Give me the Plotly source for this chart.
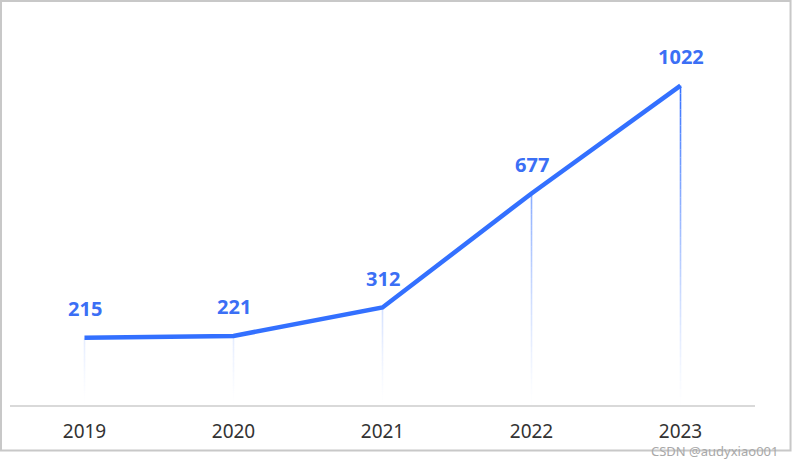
import plotly.graph_objects as go

years = ["2019", "2020", "2021", "2022", "2023"]
values = [215, 221, 312, 677, 1022]

LINE_COLOR = "#3370ff"
LABEL_COLOR = "#3b6ff5"

fig = go.Figure()

# gradient drop lines from each point to the axis
vmax = max(values)
N = 40
shapes = []
for i, v in enumerate(values):
    for k in range(N):
        v0 = v * k / N
        v1 = v * (k + 1) / N
        a = ((v0 + v1) / 2 / vmax) ** 1.3
        shapes.append(dict(type="line", xref="x", yref="y", x0=i, x1=i, y0=v0, y1=v1,
                           line=dict(color=f"rgba(51,112,255,{a:.3f})", width=1.6),
                           layer="below"))

# outer border
shapes.append(dict(type="rect", xref="paper", yref="paper",
                   x0=-0.01208, x1=1.0477, y0=-0.1213, y1=1.0773,
                   line=dict(color="#c8c8c8", width=2), fillcolor="rgba(0,0,0,0)",
                   layer="above"))

fig.add_trace(go.Scatter(x=list(range(len(years))), y=values, mode="lines",
                         line=dict(color=LINE_COLOR, width=4.5), hoverinfo="skip"))

annotations = []
for i, v in enumerate(values):
    annotations.append(dict(x=i, y=v, xref="x", yref="y", text=str(v), showarrow=False,
                            yshift=29, font=dict(family="Noto Sans", size=20,
                                                 color=LABEL_COLOR, weight="bold")))
annotations.append(dict(x=1.0336, y=-0.1227, xref="paper", yref="paper",
                        text="CSDN @audyxiao001", showarrow=False, xanchor="right",
                        yanchor="middle",
                        font=dict(family="Noto Sans", size=13, color="#a8a8a8")))

fig.update_layout(
    width=794, height=465,
    margin=dict(l=10, r=39, t=30, b=60),
    paper_bgcolor="white", plot_bgcolor="white",
    showlegend=False,
    shapes=shapes,
    annotations=annotations,
    xaxis=dict(tickmode="array", tickvals=list(range(len(years))), ticktext=years,
               range=[-0.5, len(years) - 0.5], showgrid=False, zeroline=False,
               showline=True, linecolor="#d9d9d9", linewidth=2, ticks="",
               ticklabelstandoff=8,
               tickfont=dict(family="Noto Sans", size=19, color="#333333")),
    yaxis=dict(range=[0, 1200], visible=False, showgrid=False, zeroline=False),
)

fig.write_html("out.html", config={"displayModeBar": False},
               post_script="document.body.style.margin='0';document.body.style.overflow='hidden';")
